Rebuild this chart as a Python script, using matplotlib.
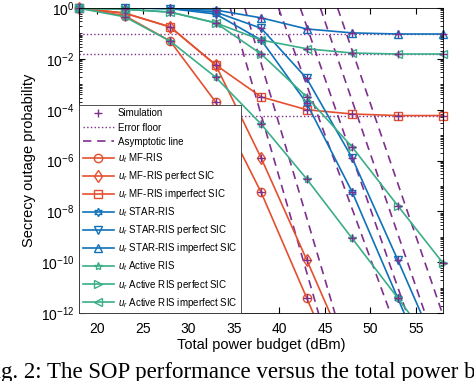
import matplotlib
matplotlib.use('Agg')
import matplotlib.pyplot as plt
import numpy as np
from matplotlib.lines import Line2D
from matplotlib.ticker import NullFormatter, FixedLocator

plt.rcParams['font.family'] = ['Liberation Sans', 'DejaVu Sans']
plt.rcParams['mathtext.fontset'] = 'custom'
plt.rcParams['mathtext.rm'] = 'Liberation Sans'
plt.rcParams['mathtext.it'] = 'Liberation Sans:italic'

# total power budget (dBm)
power = [18, 23, 28, 33, 38, 43, 48, 53, 58]

nan = np.nan
# MF-RIS
mf_ut = [0.98, 0.50, 0.05, 2.0e-4, 5.6e-8, 4.0e-12, 2.5e-16, nan, nan]
mf_ur_perfect = [0.98, 0.63, 0.18, 5.8e-3, 1.26e-6, 1.26e-10, 1e-14, nan, nan]
mf_ur_imperfect = [0.98, 0.63, 0.18, 5.8e-3, 3.2e-4, 1.0e-4, 6.8e-5, 5.9e-5, 5.9e-5]
# STAR-RIS
star_ut = [1.0, 1.0, 0.95, 0.58, 0.055, 1.8e-4, 5.8e-8, 4.0e-12, 2.5e-16]
star_ur_perfect = [1.0, 1.0, 0.95, 0.69, 0.16, 1.7e-3, 1.26e-6, 1.26e-10, 1e-14]
star_ur_imperfect = [1.0, 1.0, 0.96, 0.83, 0.41, 0.15, 0.105, 0.095, 0.095]
# Active RIS
active_ut = [0.98, 0.45, 0.05, 1.9e-3, 2.7e-5, 1.9e-7, 8.7e-10, 4.0e-12, 1.6e-14]
active_ur_perfect = [0.98, 0.89, 0.69, 0.26, 0.0155, 3.2e-4, 3.4e-6, 1.7e-8, 9.1e-11]
active_ur_imperfect = [0.98, 0.89, 0.69, 0.26, 0.055, 0.025, 0.017, 0.0155, 0.0155]

# error floors of the imperfect SIC cases
error_floors = [0.095, 0.0155, 5.9e-5]

# asymptotic lines: power where they cross 1 and where they cross 1e-12
asym_start = [34.6, 36.2, 39.9, 42.3, 44.5, 46.4]
asym_end = [44.3, 46.1, 52.2, 54.0, 56.0, 57.9]

red = '#E4502F'
blue = '#0F72BA'
green = '#3AAE88'
purple = '#7E2F8E'

series = [
    (mf_ut, red, 'o', r'$u_t$ MF-RIS'),
    (mf_ur_perfect, red, 'd', r'$u_r$ MF-RIS perfect SIC'),
    (mf_ur_imperfect, red, 's', r'$u_r$ MF-RIS imperfect SIC'),
    (star_ut, blue, (6, 1, 0), r'$u_t$ STAR-RIS'),
    (star_ur_perfect, blue, 'v', r'$u_r$ STAR-RIS perfect SIC'),
    (star_ur_imperfect, blue, '^', r'$u_r$ STAR-RIS imperfect SIC'),
    (active_ut, green, '*', r'$u_t$ Active RIS'),
    (active_ur_perfect, green, '>', r'$u_r$ Active RIS perfect SIC'),
    (active_ur_imperfect, green, '<', r'$u_r$ Active RIS imperfect SIC'),
]

fig = plt.figure(figsize=(4.74, 3.81), dpi=100)
ax = fig.add_axes([0.167, 0.178, 0.768, 0.801])

x_min, x_max = 18, 58
y_min, y_max = 1e-12, 1

# error floors and asymptotic lines
for f in error_floors:
    ax.plot([x_min, x_max], [f, f], ':', color=purple, lw=1.0)
for a, b in zip(asym_start, asym_end):
    ax.plot([a, b], [y_max, y_min], '--', color=purple, lw=1.2, dashes=(5, 3.5))

handles = [
    Line2D([], [], ls='none', marker='+', color=purple, ms=6, mew=1.0),
    Line2D([], [], ls=':', color=purple, lw=1.0),
    Line2D([], [], ls='--', color=purple, lw=1.2, dashes=(5, 3.5)),
]
labels = ['Simulation', 'Error floor', 'Asymptotic line']

for vals, c, m, lab in series:
    p = np.array(power, dtype=float)
    v = np.array(vals, dtype=float)
    ok = ~np.isnan(v)
    ax.plot(p[ok], v[ok], '-', color=c, lw=1.2)
    vis = ok & (v >= y_min)
    ax.plot(p[vis], v[vis], ls='none', marker=m, ms=6, mfc='none', mec=c,
            mew=1.0, clip_on=False)
    ax.plot(p[vis], v[vis], ls='none', marker='+', ms=6, color=purple,
            mew=1.0, clip_on=False)
    handles.append(Line2D([], [], color=c, lw=1.2, marker=m, ms=6,
                          mfc='none', mec=c, mew=1.0))
    labels.append(lab)

ax.set_yscale('log')
ax.set_xlim(x_min, x_max)
ax.set_ylim(y_min, y_max)
ax.set_xticks([20, 25, 30, 35, 40, 45, 50, 55])
majors = [10.0 ** k for k in range(-12, 1, 2)]
ax.yaxis.set_major_locator(FixedLocator(majors))
minor = [10.0 ** k * s for k in range(-12, 0) for s in range(1, 10)]
minor = [t for t in minor if t not in majors]
ax.yaxis.set_minor_locator(FixedLocator(minor))
ax.yaxis.set_minor_formatter(NullFormatter())
ax.tick_params(which='both', direction='in', top=True, right=True,
               labelsize=10)
ax.tick_params(axis='x', pad=6)
ax.tick_params(which='major', length=4)
ax.tick_params(which='minor', length=2)
for s in ax.spines.values():
    s.set_linewidth(0.6)

ax.set_xlabel('Total power budget (dBm)', fontsize=10.5, labelpad=2)
ax.set_ylabel('Secrecy outage probability', fontsize=10.5, labelpad=3)

leg = ax.legend(handles, labels, loc='lower left', fontsize=7,
                handlelength=3.2, labelspacing=0.43, borderaxespad=0,
                fancybox=False, edgecolor='#333333', framealpha=1,
                handletextpad=0.4, borderpad=0.35)
leg.get_frame().set_linewidth(0.6)

# figure caption, cut at the picture edges as in the source
fig.text(-0.038, 0.022, 'Fig. 2: The SOP performance versus the total power budget.',
         family='Liberation Serif', fontsize=16.5, ha='left', va='center')

fig.savefig('out.png', dpi=100)
